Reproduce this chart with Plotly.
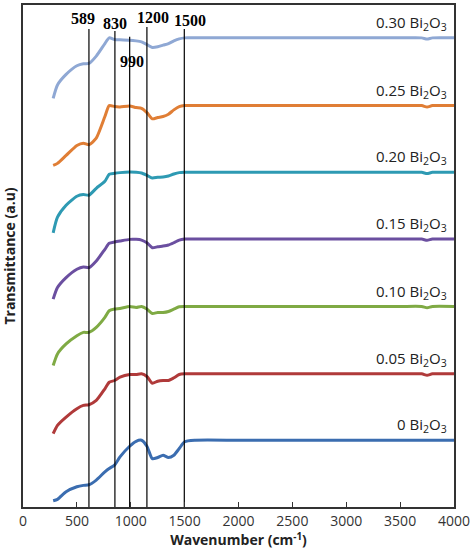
import plotly.graph_objects as go

# Wavenumber grid (cm-1)
wavenumber = [280, 320, 400, 500, 560, 612, 680, 760, 800, 850, 900, 990, 1050, 1100,
              1150, 1200, 1250, 1300, 1350, 1400, 1450, 1500, 1600, 2000, 2500, 3000, 3500,
              3700, 3750, 3800, 4000]

# Transmittance (a.u., vertically offset as in the figure)
t_000 = [6.3, 7.7, 15.3, 20.3, 21.7, 22.3, 27, 35.3, 38.7, 42, 50.3, 61, 66, 67,
         61, 48.5, 49.7, 52, 49.7, 52, 58.7, 65.5, 67, 67, 67, 67, 67, 67, 67, 67, 67]
t_005 = [73.7, 82, 90.3, 98.7, 102, 102.7, 107, 118.7, 125.3, 127, 130.3, 133, 133, 133.7,
         131, 124.3, 126.3, 127, 127, 129.7, 133, 133.7, 133.7, 133.7, 133.7, 133.7, 133.7,
         133.7, 132.2, 133.7, 133.7]
t_010 = [142, 153.7, 163.7, 172, 175.3, 175.3, 180.3, 190.3, 197, 198.7, 199.3, 201.3, 200.3, 201.3,
         198.7, 194.3, 195.3, 195.3, 196.3, 198.7, 201, 201.3, 201.3, 201.3, 201.3, 201.3, 201.3,
         201.3, 200, 201.3, 201.3]
t_015 = [208.7, 220.3, 230.3, 238.7, 241, 240.3, 247, 258.7, 264.7, 266, 267, 268.7, 268.7, 268,
         265.3, 260.3, 261.3, 262, 263, 265.3, 268, 269, 269, 269, 269, 269, 269,
         269, 267.8, 269, 269]
t_020 = [275.3, 291, 303, 312, 313.7, 313, 320, 327, 334, 335, 335.7, 336.3, 336, 335.3,
         333, 330.3, 331, 331.3, 332.3, 334.3, 335.7, 336, 336, 336, 336, 336, 336,
         336, 334.8, 336, 336]
t_025 = [343, 345, 353, 363, 365.3, 363.7, 370.3, 392, 403, 402, 401.7, 402.7, 401, 400.3,
         396, 389.7, 391, 392, 394.3, 398.7, 402, 403, 403, 403, 403, 403, 403,
         403, 401.5, 403, 403]
t_030 = [410.3, 423.7, 434.3, 443, 445, 445.3, 452.7, 465.3, 471, 469.3, 469, 468.7, 468, 467,
         464.3, 461.3, 462, 463.7, 465.3, 468, 470, 471, 471, 471, 471, 471, 471,
         471, 469.8, 471, 471]

series_names = ["0 Bi<sub>2</sub>O<sub>3</sub>", "0.05 Bi<sub>2</sub>O<sub>3</sub>",
                "0.10 Bi<sub>2</sub>O<sub>3</sub>", "0.15 Bi<sub>2</sub>O<sub>3</sub>",
                "0.20 Bi<sub>2</sub>O<sub>3</sub>", "0.25 Bi<sub>2</sub>O<sub>3</sub>",
                "0.30 Bi<sub>2</sub>O<sub>3</sub>"]
series_values = [t_000, t_005, t_010, t_015, t_020, t_025, t_030]

# Reference band lines (drawn positions) and their labels
band_positions = [612, 853, 990, 1150, 1497]
band_tops = [480, 478, 472, 482, 480]
band_labels = ["589", "830", "990", "1200", "1500"]

x_ticks = [0, 500, 1000, 1500, 2000, 2500, 3000, 3500, 4000]

# styles
colors = ["#3B6DB0", "#B03A3A", "#7FAA44", "#6B4FA0", "#2E9AB3", "#E07E35", "#8FA8D4"]
label_xy = [(557, 490), (854, 485), (1011, 447), (1206, 491), (1550, 488)]

fig = go.Figure()
for name, vals, col in zip(series_names, series_values, colors):
    fig.add_trace(go.Scatter(x=wavenumber, y=vals, mode="lines", name=name,
                             line=dict(color=col, width=3, shape="spline", smoothing=0.6),
                             showlegend=False, hoverinfo="skip"))
    fig.add_annotation(x=4000, y=vals[-1], text=name, showarrow=False,
                       xanchor="right", yanchor="bottom", xshift=-5, yshift=2,
                       font=dict(family="Open Sans", size=15, color="#222"))

for pos, top in zip(band_positions, band_tops):
    fig.add_trace(go.Scatter(x=[pos, pos], y=[0, top], mode="lines",
                             line=dict(color="black", width=1.2),
                             showlegend=False, hoverinfo="skip"))

for lab, (lx, ly) in zip(band_labels, label_xy):
    fig.add_annotation(x=lx, y=ly, text="<b>%s</b>" % lab, showarrow=False,
                       xanchor="center", yanchor="middle",
                       font=dict(family="Liberation Serif", size=16, color="black"))

fig.update_layout(
    width=474, height=558,
    margin=dict(l=23, r=20, t=3, b=51),
    paper_bgcolor="white", plot_bgcolor="white",
    showlegend=False,
    xaxis=dict(range=[0, 4000], tickvals=x_ticks, ticks="inside", ticklen=5,
               tickcolor="#333", tickwidth=1.2,
               showgrid=False, zeroline=False, showline=True, linecolor="#333",
               linewidth=1.5, mirror=True,
               tickfont=dict(family="Open Sans", size=14, color="#333"),
               title=dict(text="<b>Wavenumber (cm<sup>-1</sup>)</b>", standoff=6,
                          font=dict(family="Open Sans", size=14, color="#222"))),
    yaxis=dict(range=[0, 504], showticklabels=False, ticks="",
               showgrid=False, zeroline=False, showline=True, linecolor="#333",
               linewidth=1.5, mirror=True,
               title=dict(text="<b>Transmittance (a.u)</b>", standoff=4,
                          font=dict(family="Open Sans", size=14, color="#222"))),
)

fig.write_html("out.html")
